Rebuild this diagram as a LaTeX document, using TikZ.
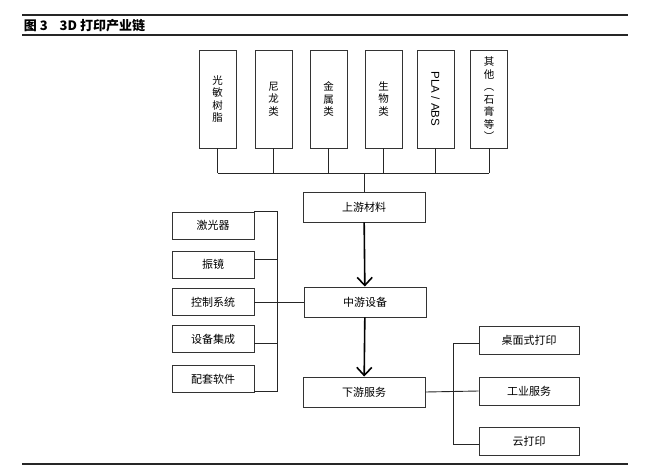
\documentclass[tikz,border=0pt]{standalone}
\usepackage{fontspec}
\setmainfont{Noto Sans CJK SC}
\newfontfamily\latinfont{Liberation Sans}
\usetikzlibrary{arrows.meta}

\begin{document}
\begin{tikzpicture}[x=1pt, y=-1pt, line width=0.9pt,
	material/.style={draw=black!80, minimum width=37pt, minimum height=98pt, inner sep=0pt, align=center, font=\fontsize{10.5}{12.5}\selectfont},
	stage/.style={draw=black!80, minimum width=122pt, minimum height=30pt, inner sep=0pt, font=\fontsize{11}{13}\selectfont},
	part/.style={draw=black!80, minimum width=82pt, minimum height=27pt, inner sep=0pt, font=\fontsize{11}{13}\selectfont},
	service/.style={draw=black!80, minimum width=100pt, minimum height=28pt, inner sep=0pt, font=\fontsize{11}{13}\selectfont},
	link/.style={draw=black!85, line width=0.9pt},
	flow/.style={draw=black, line width=1.6pt, -{Straight Barb[length=8pt, width=15pt, line width=1.6pt]}}]

	\useasboundingbox (0,0) rectangle (660,470);

	% title and rules
	\draw[black!85, line width=1.1pt] (22,15) -- (628,15);
	\draw[black!85, line width=1.1pt] (22,35) -- (628,35);
	\draw[black!85, line width=1.1pt] (22,464) -- (628,464);
	\node[anchor=west, font=\fontsize{13}{15}\selectfont\bfseries] (title) at (20,25.5) {图 3\hspace{12pt}3D 打印产业链};

	% upstream materials
	\node[material] (m1) at (217.5,99) {光\\敏\\树\\脂};
	\node[material] (m2) at (273.5,99) {尼\\龙\\类};
	\node[material] (m3) at (328.5,99) {金\\属\\类};
	\node[material] (m4) at (383.5,99) {生\\物\\类};
	\node[material] (m5) at (435.5,99) {};
	\node[rotate=-90, font=\latinfont\fontsize{11.5}{13}\selectfont] (pla) at (m5) {PLA / ABS};
	\node[material] (m6) at (489,99) {其\\他\\︵\\石\\膏\\等\\︶};

	% the three stages
	\node[stage] (up) at (364,207) {上游材料};
	\node[stage] (mid) at (365,302) {中游设备};
	\node[stage] (down) at (364,392) {下游服务};

	% equipment parts
	\node[part] (p1) at (213,225.5) {激光器};
	\node[part] (p2) at (213,264.5) {振镜};
	\node[part] (p3) at (213,302) {控制系统};
	\node[part] (p4) at (213,339) {设备集成};
	\node[part] (p5) at (213,379) {配套软件};

	% services
	\node[service] (s1) at (529,340) {桌面式打印};
	\node[service] (s2) at (529,391) {工业服务};
	\node[service] (s3) at (529,441) {云打印};

	% materials bus
	\coordinate (mbus) at (0,173);
	\foreach \m in {m1,m2,m3,m4,m5,m6}
		\draw[link] (\m.south) -- (\m.south |- mbus);
	\draw[link] (m1.south |- mbus) -- (m6.south |- mbus);
	\draw[link] (up.north |- mbus) -- (up.north);

	% parts bus
	\coordinate (pbus) at (277,0);
	\draw[link] (p1.north east) -- (p1.north east -| pbus) -- ([yshift=2pt]p5.south east -| pbus) -- ([yshift=2pt]p5.south east);
	\draw[link] ([yshift=5pt]p2.east) -- ([yshift=5pt]p2.east -| pbus);
	\draw[link] ([yshift=-4pt]p4.east) -- ([yshift=-4pt]p4.east -| pbus);
	\draw[link] (p3.east) -- (mid.west);

	% services bus
	\coordinate (sbus) at (453,0);
	\draw[link] ([yshift=-3pt]s1.west) -- ([yshift=-3pt]s1.west -| sbus) -- ([yshift=-3pt]s3.west -| sbus) -- ([yshift=-3pt]s3.west);
	\draw[link] (down.east) -- (s2.west);

	% main flow
	\draw[flow] (up) -- (mid);
	\draw[flow] (mid) -- (down);

\end{tikzpicture}
\end{document}
